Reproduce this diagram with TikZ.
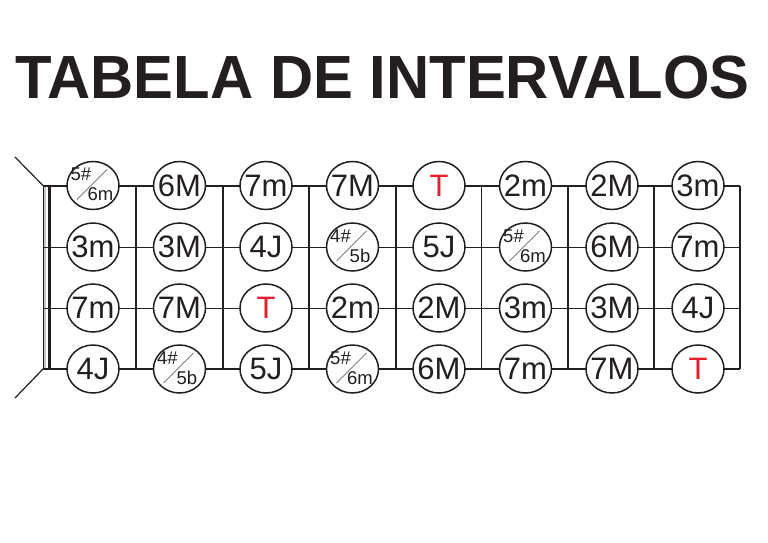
\documentclass[tikz,border=0pt]{standalone}
\usepackage{fontspec}
\setmainfont{Liberation Sans}
\usetikzlibrary{shapes.geometric}
\definecolor{ink}{HTML}{231F20}
\definecolor{tred}{HTML}{E5202E}
\definecolor{slashgray}{HTML}{808080}
\tikzset{
  ring/.style={ellipse, draw=ink, line width=1.5pt, fill=white,
    minimum width=52pt, minimum height=48pt, inner sep=0pt},
  notefont/.style={inner sep=0pt, font=\fontsize{31}{31}\selectfont},
  note/.style={ring, label={[notefont, text=ink]center:#1}},
  rednote/.style={ring, label={[notefont, text=tred]center:#1}},
  small/.style={inner sep=0pt, text=ink, font=\fontsize{18.5}{18.5}\selectfont},
  slashline/.style={draw=slashgray, line width=0.9pt},
  outerstring/.style={draw=ink, line width=2pt},
  innerstring/.style={draw=ink, line width=1pt},
  fretline/.style={draw=ink, line width=2pt},
  thinfret/.style={draw=ink, line width=1pt},
  titletext/.style={anchor=base, inner sep=0pt, text=ink,
    font=\fontsize{61}{61}\selectfont\bfseries}
}
\newcommand{\splitnote}[4]{%
  \node[ring] (#1) at (#2) {};
  \draw[slashline] ([shift={(-16,14)}]#1.center) -- ([shift={(14,-16)}]#1.center);
  \node[small] (#1t) at ([shift={(-12,-11)}]#1.center) {#3};
  \node[small] (#1b) at ([shift={(7.5,9)}]#1.center) {#4};
}
\begin{document}
\begin{tikzpicture}[x=1pt,y=-1pt]
\useasboundingbox (0,0) rectangle (768,543);
\node[titletext, xscale=0.98] (title) at (382.5,98) {TABELA DE INTERVALOS};

% string end points
\coordinate (s1l) at (43,185.5); \coordinate (s1r) at (740,185.5);
\coordinate (s2l) at (43,247);   \coordinate (s2r) at (740,247);
\coordinate (s3l) at (43,308);   \coordinate (s3r) at (740,308);
\coordinate (s4l) at (43,369);   \coordinate (s4r) at (740,369);
% headstock diagonals
\coordinate (h1) at (15,157);
\coordinate (h2) at (15,398);
\draw[ink, line width=1.2pt] (h1) -- (s1l);
\draw[ink, line width=1.2pt] (h2) -- (s4l);
% nut
\fill[gray!45] (43,185.5) rectangle (46,369);
\draw[ink, line width=0.8pt] (s1l) -- (s4l);
\coordinate (n2t) at (49.5,185.5); \coordinate (n2b) at (49.5,369);
\draw[ink, line width=2.6pt] (n2t) -- (n2b);
% strings
\draw[outerstring] (s1l) -- (s1r);
\draw[innerstring] (s2l) -- (s2r);
\draw[innerstring] (s3l) -- (s3r);
\draw[outerstring] (s4l) -- (s4r);
% frets
\foreach \fx/\fs [count=\k] in {136/fretline,222.5/fretline,309/fretline,395.5/fretline,481.5/thinfret,568/fretline,654/fretline,740/fretline}{
  \coordinate (ft\k) at (\fx,185.5);
  \coordinate (fb\k) at (\fx,369);
  \draw[\fs] (ft\k) -- (fb\k);
}
% row 1
\splitnote{a1}{93,185.5}{5\#}{6m}
\node[note=6M] (a2) at (179.5,185.5) {};
\node[note=7m] (a3) at (266,185.5) {};
\node[note=7M] (a4) at (352.5,185.5) {};
\node[rednote=T] (a5) at (439,185.5) {};
\node[note=2m] (a6) at (525.5,185.5) {};
\node[note=2M] (a7) at (612,185.5) {};
\node[note=3m] (a8) at (698,185.5) {};
% row 2
\node[note=3m] (b1) at (93,247) {};
\node[note=3M] (b2) at (179.5,247) {};
\node[note=4J] (b3) at (266,247) {};
\splitnote{b4}{352.5,247}{4\#}{5b}
\node[note=5J] (b5) at (439,247) {};
\splitnote{b6}{525.5,247}{5\#}{6m}
\node[note=6M] (b7) at (612,247) {};
\node[note=7m] (b8) at (698,247) {};
% row 3
\node[note=7m] (c1) at (93,308) {};
\node[note=7M] (c2) at (179.5,308) {};
\node[rednote=T] (c3) at (266,308) {};
\node[note=2m] (c4) at (352.5,308) {};
\node[note=2M] (c5) at (439,308) {};
\node[note=3m] (c6) at (525.5,308) {};
\node[note=3M] (c7) at (612,308) {};
\node[note=4J] (c8) at (698,308) {};
% row 4
\node[note=4J] (d1) at (93,369) {};
\splitnote{d2}{179.5,369}{4\#}{5b}
\node[note=5J] (d3) at (266,369) {};
\splitnote{d4}{352.5,369}{5\#}{6m}
\node[note=6M] (d5) at (439,369) {};
\node[note=7m] (d6) at (525.5,369) {};
\node[note=7M] (d7) at (612,369) {};
\node[rednote=T] (d8) at (698,369) {};
\end{tikzpicture}
\end{document}
